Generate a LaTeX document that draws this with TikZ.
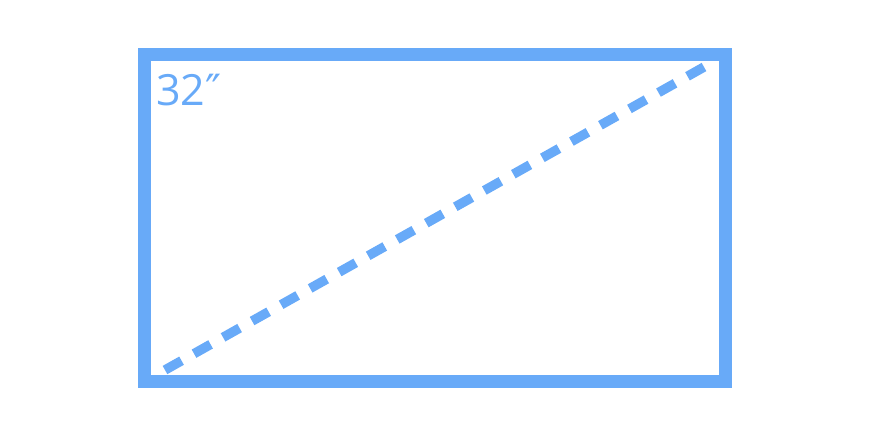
\documentclass[tikz,border=0pt]{standalone}
\usepackage{fontspec}
\setmainfont{Open Sans}
\newfontfamily\primefont{DejaVu Sans}
\usetikzlibrary{positioning}
\definecolor{screenblue}{RGB}{104,170,248}
\tikzset{
  screen/.style={draw=screenblue, line width=13pt, minimum width=580.5pt, minimum height=327pt, inner sep=0pt},
  diagonal/.style={draw=screenblue, line width=9.5pt, dash pattern=on 19pt off 14.3pt},
  size label/.style={text=screenblue, font=\fontsize{43}{43}\selectfont, inner sep=0pt, anchor=base west}
}
\begin{document}
\begin{tikzpicture}[x=1pt, y=-1pt]
    \useasboundingbox (0,0) rectangle (870,437);
    % Screen outline
    \node[screen] (screen) at (434.75,218) {};
    % Diagonal
    \coordinate (low) at (165,370);
    \coordinate (high) at (704,67);
    \draw[diagonal] (low) -- (high);
    % Size
    \node[size label] (size) at (156,105) {32{\primefont ″}};
\end{tikzpicture}
\end{document}
